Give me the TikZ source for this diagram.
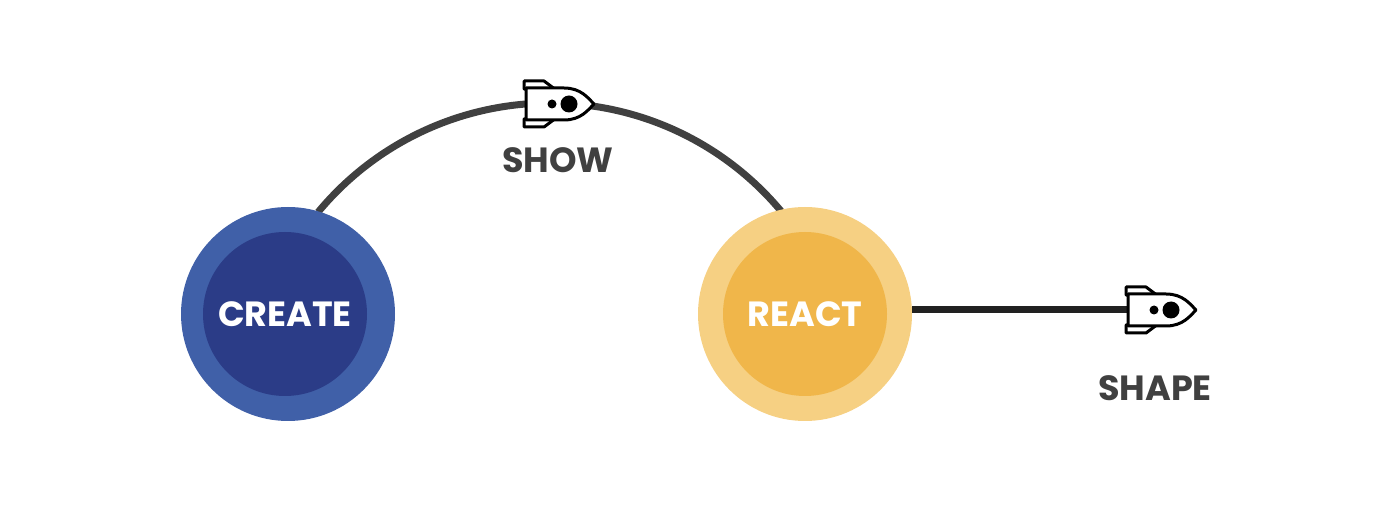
\documentclass[tikz,border=0pt]{standalone}
\usepackage{fontspec}
\setmainfont{Poppins}
\begin{document}
\begin{tikzpicture}[x=1pt,y=-1pt,
  lbl/.style={font=\fontsize{35}{35}\selectfont\bfseries, text=#1},
  rocket/.pic={
    \draw[line width=3,fill=white,line join=round] (-2,-15) -- (-2,-23) -- (18,-23) -- (30,-14) -- cycle;
    \draw[line width=3,fill=white,line join=round] (-2,15) -- (-2,23) -- (18,23) -- (30,14) -- cycle;
    \draw[line width=3,fill=white,line join=round] (0,-16) -- (38,-16) .. controls (55,-16) and (62,-6) .. (68,0) .. controls (62,6) and (55,16) .. (38,16) -- (0,16) -- cycle;
    \fill (26,0) circle (4.5);
    \fill (43,0) circle (8.5);
  }]
\useasboundingbox (0,0) rectangle (1382,510);
\coordinate (o) at (550,404);
\draw[line width=7,color=black!75] (o) ++(-140.4:301) arc[start angle=-140.4,end angle=-39.6,radius=301];
\node[circle,fill={rgb,255:red,64;green,96;blue,168},minimum size=214,inner sep=0] (cout) at (288,314) {};
\node[circle,fill={rgb,255:red,43;green,60;blue,135},minimum size=164,inner sep=0,lbl=white] (create) at (285,314) {CREATE};
\node[circle,fill={rgb,255:red,246;green,208;blue,131},minimum size=214,inner sep=0] (rout) at (805,314) {};
\node[circle,fill={rgb,255:red,240;green,182;blue,74},minimum size=164,inner sep=0,lbl=white] (react) at (805,314) {REACT};
\coordinate (r2) at (1128,310);
\draw[line width=7,color=black!87] (rout.east |- r2) -- (r2);
\pic at (526,104) {rocket};
\pic at (1128,310) {rocket};
\node[lbl=black!75] (show) at (558,160) {SHOW};
\node[lbl=black!75] (shape) at (1155,388) {SHAPE};
\end{tikzpicture}
\end{document}
